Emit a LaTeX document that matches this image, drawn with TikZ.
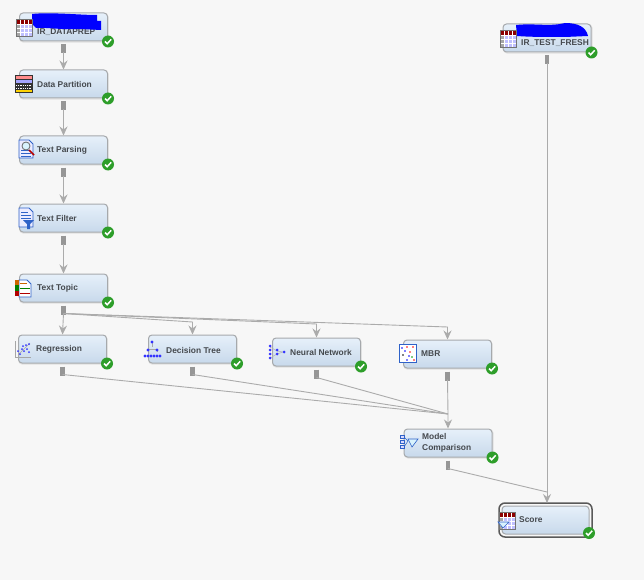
\documentclass[tikz,border=0pt]{standalone}
\usepackage{fontspec}
\setmainfont{Liberation Sans}
\usetikzlibrary{arrows.meta}

\definecolor{canvas}{HTML}{F7F7F7}
\definecolor{boxtop}{HTML}{E6F0FA}
\definecolor{boxbot}{HTML}{C8D9EB}
\definecolor{boxline}{HTML}{A6A9AC}
\definecolor{wire}{HTML}{ABABAB}
\definecolor{stubgray}{HTML}{969696}
\definecolor{okgreen}{HTML}{2E9E2A}
\definecolor{iconblue}{HTML}{2F62C8}
\definecolor{labelgray}{HTML}{45494E}

\tikzset{
    stage/.style={draw=boxline, line width=1pt, rounded corners=3.5pt, top color=boxtop, bottom color=boxbot,
        minimum width=88pt, minimum height=28pt, inner sep=0pt},
    dropbox/.style={draw=black!12, line width=1.4pt, rounded corners=3.5pt, minimum width=88pt, minimum height=28pt},
    caption/.style={anchor=west, inner sep=0pt, align=left, text=labelgray,
        font=\fontsize{8.4}{11}\selectfont\bfseries},
    wirel/.style={draw=wire, line width=0.9pt},
    arrowl/.style={wirel, -{Stealth[length=9pt,width=8pt,inset=3pt]}},
    stub/.style={draw=stubgray, line width=4.5pt},
    badge/.pic={
        \fill [okgreen] (0,0) circle (6pt);
        \draw [white, line width=1.5pt] (-3,0) -- (-0.8,2.2) -- (3.2,-2.2);
    },
    tblicon/.pic={
        \fill [white] (0,0) rectangle (16,17);
        \fill [blue!25] (4,5) rectangle (16,17);
        \fill [black!35] (0,5) rectangle (4,17);
        \fill [red!55!black] (0,0) rectangle (16,5);
        \foreach \gx in {4,8,12} {\draw [white, line width=0.5pt] (\gx,0) -- (\gx,17);}
        \foreach \gy in {5,9,13} {\draw [white, line width=0.5pt] (0,\gy) -- (16,\gy);}
        \draw [black!55, line width=0.6pt] (0,0) rectangle (16,17);
    },
}

\begin{document}
\begin{tikzpicture}[x=1pt, y=-1pt]
    \fill [canvas] (0,0) rectangle (644,580);

    % drop shadows
    \node [dropbox] at (64,28) {};
    \node [dropbox] at (64,85) {};
    \node [dropbox] at (64,151) {};
    \node [dropbox] at (64,219) {};
    \node [dropbox] at (64,289) {};
    \node [dropbox] at (63,350) {};
    \node [dropbox] at (193,350) {};
    \node [dropbox] at (317,353) {};
    \node [dropbox] at (448,355) {};
    \node [dropbox] at (449,444) {};
    \node [dropbox] at (548,39) {};

    % boxes
    \node [stage] (prep) at (63.5,27) {};
    \node [stage] (part) at (63.5,84) {};
    \node [stage] (pars) at (63.5,150) {};
    \node [stage] (filt) at (63.5,218) {};
    \node [stage] (topic) at (63.5,288) {};
    \node [stage] (regr) at (62.5,349) {};
    \node [stage] (tree) at (192.5,349) {};
    \node [stage] (neur) at (316.5,352) {};
    \node [stage] (mbr) at (447.5,354) {};
    \node [stage] (comp) at (448,443) {};
    \node [stage] (fresh) at (547,38) {};
    \node [draw=black!65, line width=1.5pt, rounded corners=6pt, minimum width=93pt, minimum height=34pt] (scoreout) at (545.5,520) {};
    \node [stage, minimum width=87pt, minimum height=28pt] (score) at (545.5,520) {};

    % connector stubs
    \draw [stub] ([yshift=-3pt]prep.south) -- ([yshift=-12pt]prep.south);
    \draw [stub] ([yshift=-3pt]part.south) -- ([yshift=-12pt]part.south);
    \draw [stub] ([yshift=-3pt]pars.south) -- ([yshift=-12pt]pars.south);
    \draw [stub] ([yshift=-3pt]filt.south) -- ([yshift=-12pt]filt.south);
    \draw [stub] ([yshift=-3pt]topic.south) -- ([yshift=-12pt]topic.south);
    \draw [stub] ([yshift=-3pt]regr.south) -- ([yshift=-12pt]regr.south);
    \draw [stub] ([yshift=-3pt]tree.south) -- ([yshift=-12pt]tree.south);
    \draw [stub] ([yshift=-3pt]neur.south) -- ([yshift=-12pt]neur.south);
    \draw [stub] ([yshift=-3pt]mbr.south) -- ([yshift=-12pt]mbr.south);
    \draw [stub] ([yshift=-3pt]comp.south) -- ([yshift=-12pt]comp.south);
    \draw [stub] ([yshift=-3pt]fresh.south) -- ([yshift=-12pt]fresh.south);

    \coordinate (topicout) at ([yshift=-11pt]topic.south);
    \coordinate (treebend) at (192.5,322);
    \coordinate (neurbend) at (316.5,324);
    \coordinate (mbrbend) at (447.5,327);
    \coordinate (merge) at (448,414);
    \coordinate (scorebend) at (547,492);
    \coordinate (scorein) at (547,503);

    % connectors
    \draw [arrowl] ([yshift=-11pt]prep.south) -- (part.north);
    \draw [arrowl] ([yshift=-11pt]part.south) -- (pars.north);
    \draw [arrowl] ([yshift=-11pt]pars.south) -- (filt.north);
    \draw [arrowl] ([yshift=-11pt]filt.south) -- (topic.north);
    \draw [arrowl] (topicout) -- (regr.north);
    \draw [arrowl] (topicout) -- (treebend) -- (tree.north);
    \draw [arrowl] (topicout) -- (neurbend) -- (neur.north);
    \draw [arrowl] (topicout) -- (mbrbend) -- (mbr.north);
    \draw [wirel] ([yshift=-11pt]regr.south) -- (merge);
    \draw [wirel] ([yshift=-11pt]tree.south) -- (merge);
    \draw [wirel] ([yshift=-11pt]neur.south) -- (merge);
    \draw [arrowl] ([yshift=-11pt]mbr.south) -- (merge) -- (comp.north);
    \draw [wirel] ([yshift=-11pt]comp.south) -- (scorebend);
    \draw [arrowl] ([yshift=-11pt]fresh.south) -- (scorein);

    % captions
    \node [caption] (preplab) at (37,32) {IR\_DATAPREP};
    \node [caption] (partlab) at (37,84) {Data Partition};
    \node [caption] (parslab) at (37,150) {Text Parsing};
    \node [caption] (filtlab) at (37,218) {Text Filter};
    \node [caption] (topiclab) at (37,288) {Text Topic};
    \node [caption] (regrlab) at (36,349) {Regression};
    \node [caption] (treelab) at (166,350) {Decision Tree};
    \node [caption] (neurlab) at (290,352) {Neural Network};
    \node [caption] (mbrlab) at (421,354) {MBR};
    \node [caption] (complab) at (422,443) {Model\\Comparison};
    \node [caption] (freshlab) at (521,43) {IR\_TEST\_FRESH};
    \node [caption] (scorelab) at (519,520) {Score};

    % blue marks over the top two boxes
    \fill [blue] (32,14) .. controls (50,12) and (80,15) .. (97,15) -- (97,21) -- (101,21) -- (101,30)
        -- (80,29) .. controls (60,30) and (45,27) .. (36,28) -- (32,24) -- cycle;
    \fill [blue] (516,25) .. controls (535,23) and (550,27) .. (565,23) .. controls (578,23) and (586,27) .. (588,36)
        -- (565,37) .. controls (545,37) and (530,37) .. (517,36) -- cycle;

    % icons
    \pic at (16,19) {tblicon};
    \pic at (500,30) {tblicon};

    \fill [black!80] (15,75) rectangle (33,93);
    \fill [red!45] (16,76) rectangle (32,79);
    \fill [blue!35] (16,80) rectangle (32,83);
    \draw [white, densely dotted, line width=0.8pt] (16,85) -- (32,85) (16,88) -- (32,88);
    \fill [yellow!70!orange] (16,90) rectangle (32,92);

    \draw [iconblue, fill=blue!8, line width=0.8pt] (19,140) -- (29,140) -- (33,144) -- (33,158) -- (19,158) -- cycle;
    \draw [iconblue, line width=0.5pt] (21,150) -- (30,150) (21,153) -- (31,153) (21,156) -- (31,156);
    \draw [red!70!black, line width=1.6pt] (29,150) -- (34,155);
    \draw [black!60, fill=cyan!15, line width=0.8pt] (26,146) circle (4pt);

    \draw [iconblue, fill=blue!8, line width=0.8pt] (19,208) -- (29,208) -- (33,212) -- (33,227) -- (19,227) -- cycle;
    \draw [iconblue, line width=0.5pt] (21,212) -- (28,212) (21,215) -- (31,215) (21,218) -- (31,218);
    \fill [iconblue] (23,220) -- (34,220) -- (30,224) -- (30,229) -- (27,229) -- (27,224) -- cycle;

    \draw [iconblue, fill=white, line width=0.8pt] (19,280) -- (27,280) -- (31,284) -- (31,297) -- (19,297) -- cycle;
    \fill [orange!80!black] (15,280) rectangle (19,285);
    \fill [green!50!black] (15,285) rectangle (19,291);
    \fill [red!70!black] (15,291) rectangle (19,296);
    \draw [orange!80!black, line width=0.8pt] (20,283) -- (27,283);
    \draw [green!50!black, line width=0.8pt] (20,288) -- (30,288);
    \draw [red!70!black, line width=0.8pt] (20,293) -- (30,293);

    \draw [black!35, line width=0.7pt] (15,341) -- (15,357) -- (31,357);
    \draw [black!35, line width=0.6pt] (18,355) -- (30,343);
    \foreach \dotx/\doty in {18/351,20/354,22/349,24/351,26/345,27/349,29/344,29/352,23/346} {
        \fill [blue!80] (\dotx,\doty) circle (1pt);
    }

    \draw [black!35, line width=0.5pt] (152,343) -- (152,347) (148,352) -- (148,349) -- (157,349) -- (157,352);
    \foreach \dotx/\doty in {152/342,148/350,157/350,145/356,148/356,151/356,154/356,157/356,160/356} {
        \fill [blue!80] (\dotx,\doty) circle (1.6pt);
    }

    \draw [black!30, line width=0.5pt] (270,347) -- (277,351) -- (283,352) (270,358) -- (277,354) -- (283,352);
    \foreach \dotx/\doty in {270/346,270/350,270/354,270/358,277/350,277/354,284/352} {
        \fill [blue!80] (\dotx,\doty) circle (1.5pt);
    }

    \draw [iconblue, fill=white, line width=1pt] (399,344) rectangle (416,362);
    \foreach \dotx/\doty/\dotc in {402/348/blue,407/347/red,413/347/red,405/351/blue,410/352/red,403/355/black,409/356/blue,412/357/green!60!black,414/360/red,407/360/blue} {
        \fill [\dotc] (\dotx,\doty) circle (0.9pt);
    }

    \draw [iconblue, fill=blue!15, line width=0.7pt] (400,435) rectangle (404,438) (400,440) rectangle (404,443) (400,445) rectangle (404,448);
    \draw [iconblue, line width=0.5pt] (404,437) -- (408,441) -- (404,447);
    \draw [iconblue, fill=cyan!15, line width=0.6pt] (408,439) -- (418,439) -- (412,447) -- cycle;

    \pic at (499,512) {tblicon};
    \draw [iconblue, fill=cyan!15, line width=0.6pt] (498,522) -- (509,522) -- (503,528) -- cycle;

    % status marks
    \pic at (prep.south east) {badge};
    \pic at (part.south east) {badge};
    \pic at (pars.south east) {badge};
    \pic at (filt.south east) {badge};
    \pic at (topic.south east) {badge};
    \pic at (regr.south east) {badge};
    \pic at (tree.south east) {badge};
    \pic at (neur.south east) {badge};
    \pic at (mbr.south east) {badge};
    \pic at (comp.south east) {badge};
    \pic at (fresh.south east) {badge};
    \pic at (589,533) {badge};
\end{tikzpicture}
\end{document}
